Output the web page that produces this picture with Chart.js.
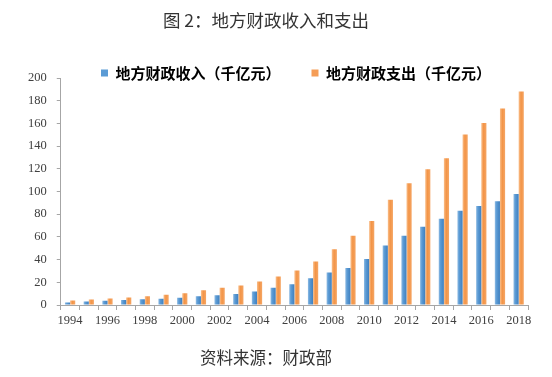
<!DOCTYPE html>
<html>
<head>
<meta charset="utf-8">
<script src="https://cdn.jsdelivr.net/npm/chart.js@4.4.1/dist/chart.umd.min.js"></script>
<style>
  html, body { margin: 0; padding: 0; background: #ffffff; }
  #wrap { position: relative; width: 552px; height: 377px; overflow: hidden; }
  #c { position: absolute; left: 0; top: 0; }
  .txt { position: absolute; left: -10px; width: 552px; text-align: center;
         font-family: "Noto Sans CJK SC", sans-serif; line-height: 20px; color: #333333; }
  #title { top: 10px; font-size: 17.5px; }
  #source { top: 347px; font-size: 16.5px; }
</style>
</head>
<body>
<div id="wrap">
  <canvas id="c" width="552" height="377"></canvas>
  <div id="title" class="txt">图 2：地方财政收入和支出</div>
  <div id="source" class="txt">资料来源：财政部</div>
</div>
<script>
// ---- data (千亿元) ----
const years = ['1994','1995','1996','1997','1998','1999','2000','2001','2002','2003','2004','2005','2006','2007','2008','2009','2010','2011','2012','2013','2014','2015','2016','2017','2018'];
const revenue = [2.3, 3.0, 3.7, 4.4, 5.0, 5.6, 6.4, 7.8, 8.5, 9.8, 11.9, 15.1, 18.3, 23.6, 28.6, 32.6, 40.6, 52.5, 61.1, 69.0, 75.9, 83.0, 87.2, 91.5, 97.9];
const expenditure = [4.0, 4.8, 5.8, 6.7, 7.7, 9.0, 10.4, 13.1, 15.3, 17.2, 20.6, 25.2, 30.4, 38.3, 49.2, 61.0, 73.9, 92.7, 107.2, 119.7, 129.2, 150.3, 160.4, 173.2, 188.2];
const seriesNames = ['地方财政收入（千亿元）', '地方财政支出（千亿元）'];
const yTicks = [0, 20, 40, 60, 80, 100, 120, 140, 160, 180, 200];

const blueBase = '#5B9BD5';
const orangeBase = '#F59D56';

// legend placement tweak: legend takes no layout space, then is moved over the top of the plot
const legendPos = {
  id: 'legendPos',
  beforeLayout(chart) {
    const lg = chart.legend;
    if (lg && !lg._patched) {
      const origFit = lg.fit;
      lg.fit = function () { origFit.call(this); this._realH = this.height; this.height = 0; };
      lg._patched = true;
    }
  },
  afterUpdate(chart) {
    const lg = chart.legend;
    if (!lg || !lg.legendHitBoxes || !lg.legendHitBoxes.length) return;
    const hb = lg.legendHitBoxes[0];
    const dx = 101 - hb.left;
    const dy = (73 - hb.height / 2) - hb.top;
    lg.left += dx; lg.right += dx;
    lg.top += dy; lg.bottom = lg.top + (lg._realH || 30);
    lg.legendHitBoxes.forEach(h => { h.left += dx; h.top += dy; });
  }
};

// horizontal shading on each bar
const barShade = {
  id: 'barShade',
  beforeDatasetsDraw(chart) {
    const ctx = chart.ctx;
    chart.data.datasets.forEach((ds, di) => {
      const meta = chart.getDatasetMeta(di);
      meta.data.forEach(el => {
        const w = el.width, x0 = el.x - w / 2;
        const g = ctx.createLinearGradient(x0, 0, x0 + w, 0);
        if (di === 0) {
          g.addColorStop(0, '#8fbbe3'); g.addColorStop(0.35, '#5b9bd5'); g.addColorStop(1, '#3f7fbe');
        } else {
          g.addColorStop(0, '#f9bf8c'); g.addColorStop(0.45, '#f39446'); g.addColorStop(1, '#f5a665');
        }
        if (el.options) el.options.backgroundColor = g;
      });
    });
  }
};

new Chart(document.getElementById('c'), {
  type: 'bar',
  data: {
    labels: years,
    datasets: [
      { label: seriesNames[0], data: revenue, backgroundColor: () => blueBase, borderWidth: 0,
        categoryPercentage: 0.55, barPercentage: 1.0 },
      { label: seriesNames[1], data: expenditure, backgroundColor: () => orangeBase, borderWidth: 0,
        categoryPercentage: 0.55, barPercentage: 1.0 }
    ]
  },
  options: {
    responsive: false,
    animation: false,
    layout: { padding: { left: 18, right: 24, top: 78, bottom: 46 } },
    plugins: {
      title: { display: false },
      tooltip: { enabled: false },
      legend: {
        display: true,
        position: 'top',
        labels: {
          boxWidth: 7, boxHeight: 7, padding: 31,
          color: '#1a1a1a',
          font: { family: '"Noto Sans CJK SC", sans-serif', size: 15, weight: 'bold' },
          generateLabels(chart) {
            return chart.data.datasets.map((ds, i) => ({
              text: ds.label,
              fillStyle: i === 0 ? blueBase : orangeBase,
              strokeStyle: i === 0 ? blueBase : orangeBase,
              lineWidth: 0,
              hidden: false,
              datasetIndex: i
            }));
          }
        }
      }
    },
    scales: {
      x: {
        offset: true,
        grid: { display: true, offset: true, drawOnChartArea: false, drawTicks: true, tickLength: 5, color: '#a6a6a6' },
        border: { display: true, color: '#a6a6a6', width: 1 },
        ticks: {
          autoSkip: false, maxRotation: 0, minRotation: 0, padding: 3,
          color: '#404040',
          font: { family: '"Liberation Serif", serif', size: 12.5 },
          callback: function (val, i) { return i % 2 === 0 ? years[i] : ''; }
        }
      },
      y: {
        min: yTicks[0], max: yTicks[yTicks.length - 1],
        grid: { display: true, drawOnChartArea: false, drawTicks: true, tickLength: 4, color: '#a6a6a6' },
        border: { display: true, color: '#a6a6a6', width: 1 },
        afterBuildTicks(scale) { scale.ticks = yTicks.map(v => ({ value: v })); },
        ticks: {
          padding: 10,
          color: '#404040',
          font: { family: '"Liberation Serif", serif', size: 12.5 }
        }
      }
    }
  },
  plugins: [legendPos, barShade]
});
</script>
</body>
</html>
